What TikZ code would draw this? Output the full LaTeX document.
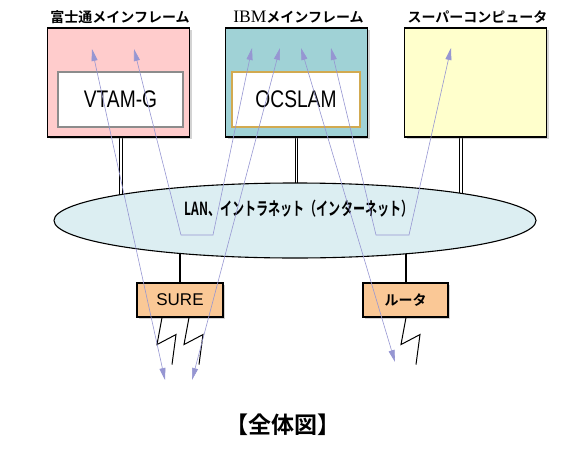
\documentclass[tikz,border=0pt]{standalone}
\usepackage{fontspec}
\setmainfont{Liberation Sans}
\newfontfamily\jpfont[BoldFont={Noto Sans CJK JP Bold}]{Noto Sans CJK JP}
\newfontfamily\jpnarrow[FakeStretch=0.67,BoldFont={Noto Sans CJK JP Bold},BoldFeatures={FakeStretch=0.67}]{Noto Sans CJK JP}
\newfontfamily\sansnarrow[FakeStretch=0.8]{Liberation Sans}
\newfontfamily\seriffont{Liberation Serif}
\usetikzlibrary{shapes.geometric,shadows,arrows.meta,backgrounds}
\definecolor{fujipink}{RGB}{255,204,204}
\definecolor{ibmteal}{RGB}{160,210,214}
\definecolor{superyellow}{RGB}{255,255,204}
\definecolor{lanblue}{RGB}{220,238,242}
\definecolor{peach}{RGB}{250,200,150}
\definecolor{goldline}{RGB}{210,170,80}
\definecolor{arrowlav}{RGB}{150,150,210}
\begin{document}
\begin{tikzpicture}[x = 1pt, y = -1pt,
    hostbox/.style = {draw = black, line width = 1.1pt, minimum width = 142pt,
        minimum height = 109pt, inner sep = 0pt,
        drop shadow = {shadow xshift = 2pt, shadow yshift = -2pt, opacity = 0.35}},
    progbox/.style = {fill = white, line width = 1.1pt, minimum height = 55pt,
        inner sep = 0pt, font = \sansnarrow\fontsize{24}{26}\selectfont},
    devbox/.style = {draw = black, fill = peach, line width = 1.1pt, minimum height = 34pt,
        inner sep = 0pt, drop shadow = {shadow xshift = 2pt, shadow yshift = -2pt, opacity = 0.35}},
    hostlabel/.style = {font = \jpfont\bfseries\fontsize{14}{16}\selectfont},
    busline/.style = {double = white, double distance = 1.2pt, line width = 1pt},
    feedline/.style = {line width = 2pt},
    bolt/.style = {line width = 1pt},
    linkarrow/.style = {draw = arrowlav, line width = 0.6pt,
        {Triangle[length = 12pt, width = 6pt]}-{Triangle[length = 12pt, width = 6pt]}}]
\useasboundingbox (0, 0) rectangle (565, 450);
% hosts
\node[hostbox, fill = fujipink] (fuji) at (118.5, 82.5) {};
\node[hostbox, fill = ibmteal] (ibm) at (296.5, 82.5) {};
\node[hostbox, fill = superyellow] (super) at (475.5, 82.5) {};
\node[progbox, draw = black!45, minimum width = 125pt] (vtam) at (120.5, 99.5) {VTAM-G};
\node[progbox, draw = goldline, minimum width = 128pt] (ocslam) at (296, 99.5) {OCSLAM};
\node[hostlabel] (fujilabel) at (120, 17) {富士通メインフレーム};
\node[hostlabel] (ibmlabel) at (298.5, 17) {{\seriffont\mdseries\fontsize{17.5}{18}\selectfont IBM}メインフレーム};
\node[hostlabel] (superlabel) at (477.5, 17) {スーパーコンピュータ};
% network
\node[ellipse, draw = black, fill = lanblue, line width = 1.1pt, minimum width = 482pt,
    minimum height = 75pt, inner sep = 0pt] (lan) at (295, 220.5) {};
\node[font = \jpnarrow\bfseries\fontsize{18}{19}\selectfont] (lanlabel) at (299, 209) {LAN、イントラネット（インターネット）};
\node[devbox, minimum width = 86pt, font = \fontsize{17}{18}\selectfont] (sure) at (180, 300) {SURE};
\node[devbox, minimum width = 85pt, font = \jpfont\bfseries\fontsize{14}{16}\selectfont] (router) at (405.5, 300) {ルータ};
\node[font = \jpfont\bfseries\fontsize{23}{25}\selectfont] (title) at (283, 425) {【全体図】};
\begin{scope}[on background layer]
\foreach \h/\dx in {fuji/2.5, ibm/0, super/-14.5}
    \draw[busline] ([xshift = \dx pt]\h.south) -- ([xshift = \dx pt]\h.south |- lan.center);
\foreach \d in {sure, router}
    \draw[feedline] (\d.north) -- (\d.north |- lan.center);
\end{scope}
% radio links
\foreach \d/\dx in {sure/-18, sure/9, router/0.5}
    \draw[bolt] ([xshift = \dx pt]\d.south) -- ++(-5, 27) -- ++(19, -10) -- ++(-4, 30);
% sessions
\coordinate (fujiA) at (92, 49);
\coordinate (fujiB) at (134, 49);
\coordinate (ibmA) at (252, 48);
\coordinate (ibmB) at (280, 48);
\coordinate (ibmC) at (301, 48);
\coordinate (ibmD) at (331, 48);
\coordinate (superA) at (451, 48);
\coordinate (termA) at (165, 380);
\coordinate (termB) at (192, 380);
\coordinate (termC) at (395, 362);
\coordinate (bendA1) at (181, 235);
\coordinate (bendA2) at (213, 235);
\coordinate (bendB1) at (376, 235);
\coordinate (bendB2) at (409, 235);
\draw[linkarrow] (fujiA) -- (termA);
\draw[linkarrow] (ibmB) -- (termB);
\draw[linkarrow] (ibmC) -- (termC);
\draw[linkarrow] (fujiB) -- (bendA1) -- (bendA2) -- (ibmA);
\draw[linkarrow] (ibmD) -- (bendB1) -- (bendB2) -- (superA);
\end{tikzpicture}
\end{document}
